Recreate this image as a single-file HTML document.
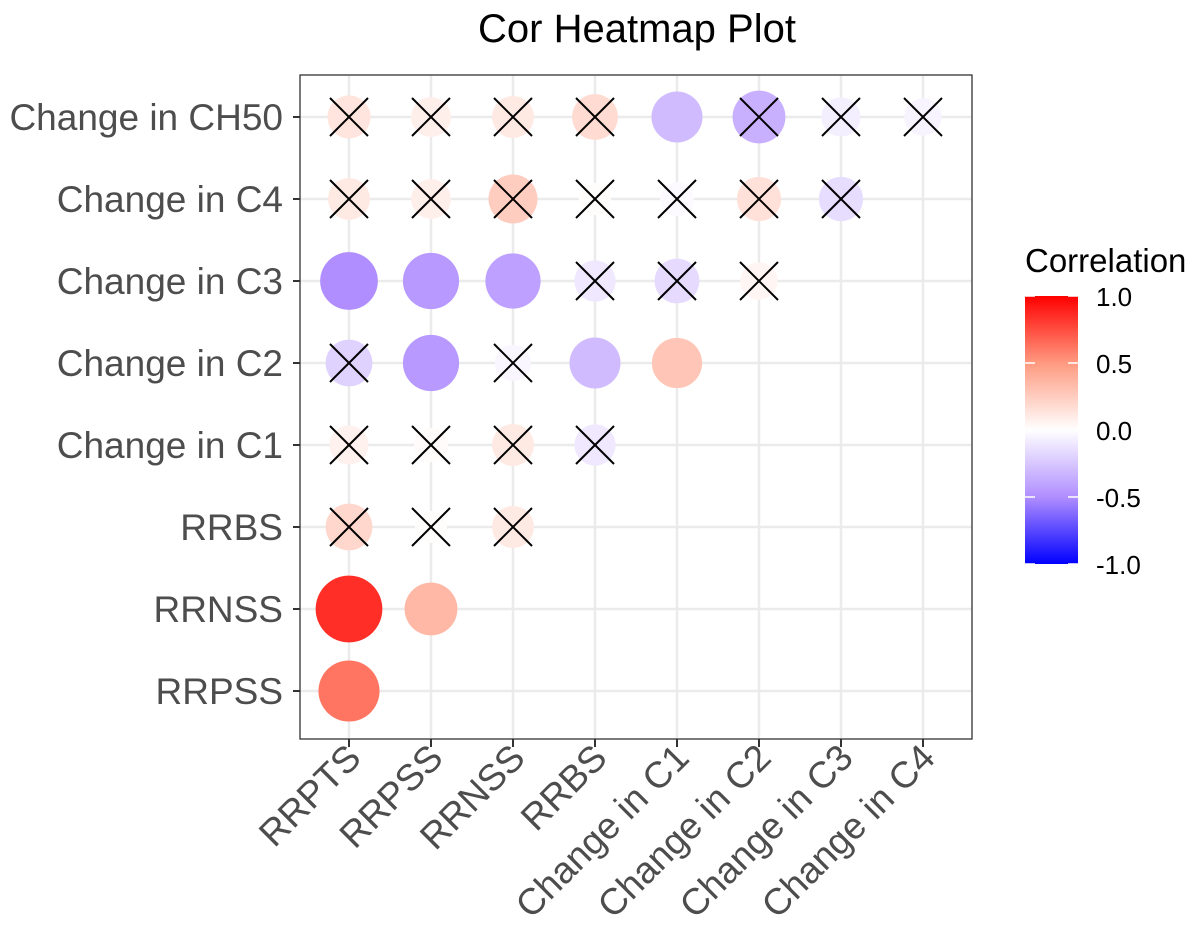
<!DOCTYPE html>
<html><head><meta charset="utf-8"><style>
html,body{margin:0;padding:0;background:#fff;}
svg{display:block;font-family:"Liberation Sans",Arial,sans-serif;}
</style></head><body>
<svg id="chart" width="1200" height="944" viewBox="0 0 1200 944">
<defs>
<linearGradient id="lg" x1="0" y1="0" x2="0" y2="1">
<stop offset="0" stop-color="#FF0000"/><stop offset="0.25" stop-color="#FF9A80"/>
<stop offset="0.5" stop-color="#FFFFFF"/><stop offset="0.75" stop-color="#B08EFF"/>
<stop offset="1" stop-color="#0000FF"/></linearGradient>
</defs>
<text x="637" y="42" font-size="40" text-anchor="middle" fill="#000">Cor Heatmap Plot</text>
<rect x="300" y="75" width="672" height="664" fill="#fff"/>
<g id="grid"></g>
<g id="marks"></g>
<rect x="300" y="75" width="672" height="664" fill="none" stroke="#333" stroke-width="1.3"/>
<g id="axes"></g>
<g>
<text x="1025" y="272" font-size="33" fill="#000">Correlation</text>
<rect x="1025" y="296" width="53" height="268" fill="url(#lg)"/>
<g id="legendticks"></g>
</g>
</svg>
<script>
const rowLabels = ["Change in CH50","Change in C4","Change in C3","Change in C2","Change in C1","RRBS","RRNSS","RRPSS"];
const colLabels = ["RRPTS","RRPSS","RRNSS","RRBS","Change in C1","Change in C2","Change in C3","Change in C4"];
const corValues = [
 [0.13,0.08,0.11,0.18,-0.30,-0.35,-0.07,-0.05],
 [0.11,0.08,0.25,0.01,-0.02,0.15,-0.15],
 [-0.50,-0.45,-0.42,-0.10,-0.16,0.05],
 [-0.20,-0.45,-0.04,-0.30,0.28],
 [0.07,0.02,0.11,-0.10],
 [0.20,0.01,0.11],
 [0.85,0.35],
 [0.62]
];
const nonSig = [
 [1,1,1,1,0,1,1,1],
 [1,1,1,1,1,1,1],
 [0,0,0,1,1,1],
 [1,0,1,0,0],
 [1,1,1,1],
 [1,1,1],
 [0,0],
 [0]
];
const legendTicks = [1.0,0.5,0.0,-0.5,-1.0];

const NS="http://www.w3.org/2000/svg";
const x0=349, y0=117, step=82;
const xPos=i=>x0+i*step, yPos=j=>y0+j*step;
const legY=v=>296+(1-v)/2*268;
function mk(t,a,p){const e=document.createElementNS(NS,t);for(const k in a)e.setAttribute(k,a[k]);p.appendChild(e);return e;}
function lerp(a,b,t){return a.map((v,i)=>Math.round(v+(b[i]-v)*t));}
function color(r){
  const W=[255,255,255],P5=[255,154,128],R=[255,0,0],N5=[176,142,255],B=[0,0,255];
  let c;
  if(r>=0) c = r<=0.5?lerp(W,P5,r/0.5):lerp(P5,R,(r-0.5)/0.5);
  else {const a=-r; c = a<=0.5?lerp(W,N5,a/0.5):lerp(N5,B,(a-0.5)/0.5);}
  return `rgb(${c[0]},${c[1]},${c[2]})`;
}
const radius=r=>14+Math.sqrt(Math.abs(r))*21;

const grid=document.getElementById('grid');
for(let i=0;i<colLabels.length;i++){
  const l=mk('line',{x1:xPos(i),x2:xPos(i),y1:75,y2:739,stroke:'#ebebeb','stroke-width':2.5},grid);
  
  
}
for(let j=0;j<rowLabels.length;j++){
  const l=mk('line',{x1:300,x2:972,y1:yPos(j),y2:yPos(j),stroke:'#ebebeb','stroke-width':2.5},grid);
  
  
}
const marks=document.getElementById('marks');
corValues.forEach((row,j)=>row.forEach((v,i)=>{
  const c=mk('circle',{cx:xPos(i),cy:yPos(j),r:radius(v),fill:color(v)},marks);
  
  
  if(nonSig[j][i]){
    const cx=xPos(i),cy=yPos(j),d=19;
    const p=mk('path',{d:`M${cx-d},${cy-d}L${cx+d},${cy+d}M${cx-d},${cy+d}L${cx+d},${cy-d}`,stroke:'#000','stroke-width':2,fill:'none'},marks);
    
    
  }
}));
const axes=document.getElementById('axes');
rowLabels.forEach((lab,j)=>{
  const t=mk('line',{x1:293,x2:300,y1:yPos(j),y2:yPos(j),stroke:'#333','stroke-width':2},axes);
  
  
  const tx=mk('text',{x:283,y:yPos(j)+13,'font-size':37,'text-anchor':'end',fill:'#4d4d4d'},axes);
  tx.textContent=lab;
  
  
});
colLabels.forEach((lab,i)=>{
  const t=mk('line',{x1:xPos(i),x2:xPos(i),y1:739,y2:747,stroke:'#333','stroke-width':2},axes);
  
  
  const x=xPos(i)+14,y=760;
  const tx=mk('text',{x:x,y:y,'font-size':37,'text-anchor':'end',fill:'#4d4d4d',transform:`rotate(-45 ${x} ${y})`},axes);
  tx.textContent=lab;
  
  
});
const lt=document.getElementById('legendticks');
legendTicks.forEach(v=>{
  const y=legY(v);
  const a=mk('line',{x1:1025,x2:1035,y1:y,y2:y,stroke:'#fff','stroke-width':1.5},lt);
  
  
  const b=mk('line',{x1:1068,x2:1078,y1:y,y2:y,stroke:'#fff','stroke-width':1.5},lt);
  
  
  const tx=mk('text',{x:1096,y:y+10,'font-size':26,fill:'#000'},lt);
  tx.textContent=v.toFixed(1);
  
  
});
</script>
</body></html>
